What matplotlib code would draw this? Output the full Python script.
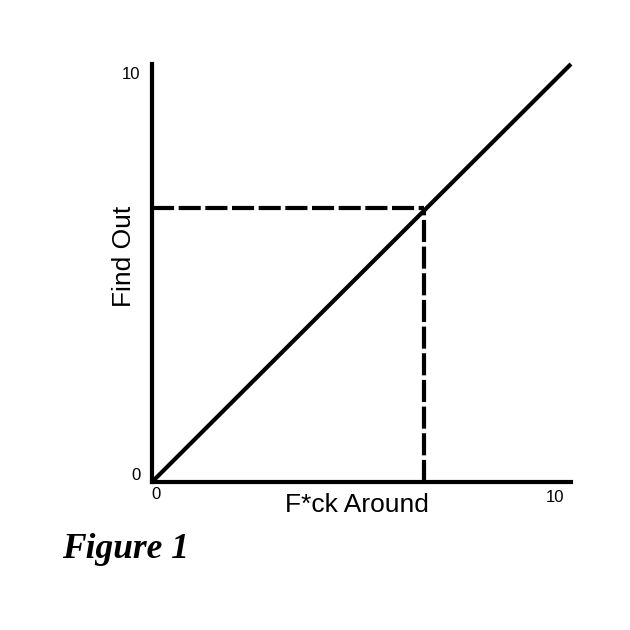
import matplotlib
matplotlib.use("Agg")
import matplotlib.pyplot as plt

# data
x_vals = [0, 10]
y_vals = [0, 10]
point = (6.5, 6.55)
tick_labels = ["0", "10"]
x_label = "F*ck Around"
y_label = "Find Out"
caption = "Figure 1"

fig = plt.figure(figsize=(6.3, 6.3), dpi=100)
ax = fig.add_axes([152/630, 1-482/630, 419/630, 418/630])
ax.set_xlim(0, 10)
ax.set_ylim(0, 10)
for s in ["top", "right"]:
    ax.spines[s].set_visible(False)
for s in ["left", "bottom"]:
    ax.spines[s].set_linewidth(3)
    ax.spines[s].set_color("black")
ax.set_xticks([])
ax.set_yticks([])

ax.plot(x_vals, y_vals, color="black", lw=3, solid_capstyle="butt", clip_on=False)
ax.plot([0, point[0]], [point[1], point[1]], color="black", lw=3,
        dashes=(5.3, 1.1), clip_on=False)
ax.plot([point[0], point[0]], [0, point[1]], color="black", lw=3,
        dashes=(5.3, 1.1), clip_on=False)

fs = 12
ax.text(-0.27, 9.75, tick_labels[1], ha="right", va="center", fontsize=fs,
        family="Liberation Sans")
ax.text(-0.27, 0.15, tick_labels[0], ha="right", va="center", fontsize=fs,
        family="Liberation Sans")
ax.text(0.1, -0.3, tick_labels[0], ha="center", va="center", fontsize=fs,
        family="Liberation Sans")
ax.text(9.62, -0.37, tick_labels[1], ha="center", va="center", fontsize=fs,
        family="Liberation Sans")

ax.text(4.9, -0.56, x_label, ha="center", va="center", fontsize=19,
        family="Liberation Sans")
ax.text(-0.66, 5.4, y_label, ha="center", va="center", fontsize=19,
        rotation=90, family="Liberation Sans")

fig.text(62/630, 1-550/630, caption, ha="left", va="center", fontsize=25.5,
         family="Liberation Serif", style="italic", weight="bold")

fig.savefig("out.png", dpi=100, facecolor="white")
